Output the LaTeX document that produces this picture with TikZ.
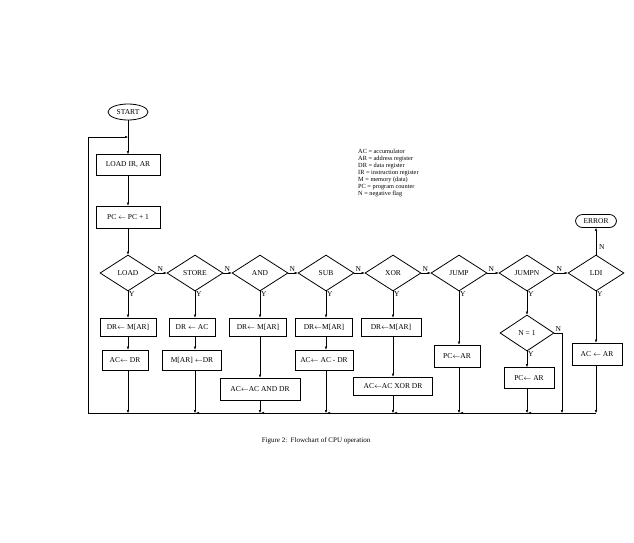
\documentclass[tikz,border=0pt]{standalone}
\usepackage{fontspec}
\setmainfont{Liberation Serif}
\usetikzlibrary{shapes.geometric,arrows.meta}
\begin{document}
\begin{tikzpicture}[x=1pt,y=-1pt,
  every node/.style={font=\fontsize{7.5}{8}\selectfont},
  box/.style={draw,thick,minimum height=18pt,inner sep=1pt},
  dia/.style={draw,thick,diamond,aspect=1.55,minimum width=56pt,minimum height=36pt,inner sep=0pt},
  lab/.style={font=\fontsize{7.5}{8}\selectfont,inner sep=1pt},
  arr/.style={-{Latex[length=3pt,width=2.5pt]}},
  ln/.style={line width=0.4pt}]
\useasboundingbox (0,0) rectangle (634,542);
\node[draw,thick,ellipse,minimum width=40pt,minimum height=16pt,inner sep=0pt] (start) at (128,112) {START};
\node[box,minimum width=64pt,minimum height=21pt] (ld) at (128,165) {LOAD IR, AR};
\node[box,minimum width=64pt,minimum height=22pt] (pc) at (128,217) {PC $\leftarrow$ PC + 1};
\coordinate (top) at (128,137);
\coordinate (lft) at (88,137);
\coordinate (lfb) at (88,413);
\foreach \n/\x/\t in {d1/128/LOAD,d2/195/STORE,d3/260/AND,d4/326/SUB,d5/393/XOR,d6/459/JUMP,d7/527/JUMPN,d8/596/LDI}
  \node[dia] (\n) at (\x,273) {\t};
\node[box,minimum width=56pt] (a1) at (128,327) {DR$\leftarrow$ M[AR]};
\node[box,minimum width=46pt,minimum height=20pt] (b1) at (125,360) {AC$\leftarrow$ DR};
\node[box,minimum width=46pt] (a2) at (192,327) {DR $\leftarrow$ AC};
\node[box,minimum width=59pt,minimum height=20pt] (b2) at (192,360) {M[AR] $\leftarrow$DR};
\node[box,minimum width=57pt] (a3) at (258,327) {DR$\leftarrow$ M[AR]};
\node[box,minimum width=80pt,minimum height=22pt] (b3) at (260,389) {AC$\leftarrow$AC AND DR};
\node[box,minimum width=57pt] (a4) at (324,327) {DR$\leftarrow$M[AR]};
\node[box,minimum width=58pt,minimum height=20pt] (b4) at (324,360) {AC$\leftarrow$ AC - DR};
\node[box,minimum width=60pt] (a5) at (391,327) {DR$\leftarrow$M[AR]};
\node[box,minimum width=79pt] (b5) at (393,386) {AC$\leftarrow$AC XOR DR};
\node[box,minimum width=46pt,minimum height=22pt] (a6) at (457,356) {PC$\leftarrow$AR};
\node[dia,minimum width=54pt] (n1) at (527,333) {N = 1};
\node[box,minimum width=50pt,minimum height=21pt] (a7) at (529,378) {PC$\leftarrow$ AR};
\node[box,minimum width=50pt,minimum height=22pt] (a8) at (597,354) {AC $\leftarrow$ AR};
\node[draw,thick,rounded corners=7pt,minimum width=41pt,minimum height=13pt,inner sep=1pt] (err) at (596,221) {ERROR};
% main flow
\draw[ln,arr] (start) -- (ld);
\draw[ln,arr] (ld) -- (pc);
\draw[ln,arr] (pc) -- (d1);
\draw[ln,arr] (lfb) -- (lft) -- (top);
\foreach \a/\b in {d1/d2,d2/d3,d3/d4,d4/d5,d5/d6,d6/d7,d7/d8}{
  \draw[ln,arr] (\a.east) -- (\b.west);
  \node[lab,anchor=south west] at (\a.east) {N};
}
\foreach \n in {d1,d2,d3,d4,d5,d6,d7,d8}
  \node[lab,anchor=north west] at ([yshift=1pt]\n.south) {Y};
\foreach \d/\a/\b in {d1/a1/b1,d2/a2/b2,d3/a3/b3,d4/a4/b4,d5/a5/b5}{
  \draw[ln,arr] (\d.south) -- (\d|-\a.north);
  \draw[ln,arr] (\d|-\a.south) -- (\d|-\b.north);
}
\draw[ln,arr] (d6) -- (d6|-a6.north);
\draw[ln,arr] (d7) -- (n1);
\draw[ln,arr] (n1) -- (n1|-a7.north);
\node[lab,anchor=north west] at ([yshift=1pt]n1.south) {Y};
\draw[ln,arr] (d8) -- (d8|-a8.north);
\draw[ln,arr] (d8) -- (err);
\node[lab,anchor=west] at (598,247) {N};
% bottom collection
\coordinate (c1) at (128,413); \coordinate (c2) at (195,413); \coordinate (c3) at (260,413);
\coordinate (c4) at (326,413); \coordinate (c5) at (393,413); \coordinate (c6) at (459,413);
\coordinate (c7) at (527,413); \coordinate (c9) at (562,413); \coordinate (c8) at (596,413);
\draw[ln,arr] (c1|-b1.south) -- (c1);
\draw[ln,arr] (c2|-b2.south) -- (c2);
\draw[ln,arr] (c3|-b3.south) -- (c3);
\draw[ln,arr] (c4|-b4.south) -- (c4);
\draw[ln,arr] (c5|-b5.south) -- (c5);
\draw[ln,arr] (c6|-a6.south) -- (c6);
\draw[ln,arr] (c7|-a7.south) -- (c7);
\draw[ln,arr] (c8|-a8.south) -- (c8);
\draw[ln,arr] (n1.east) -- (562,333) -- (c9);
\node[lab,anchor=south west] at (n1.east) {N};
\draw[ln] (c8) -- (lfb);
\foreach \p in {c2,c3,c4,c5,c6,c7}
  \draw[ln,arr] ([xshift=6pt]\p) -- ([xshift=1pt]\p);
% legend
\node[anchor=north west,align=left,inner sep=0pt,font=\fontsize{6.3}{7}\selectfont] (leg) at (358,149) {AC = accumulator\\AR = address register\\DR = data register\\IR = instruction register\\M = memory (data)\\PC = program counter\\N = negative flag};
\node[font=\fontsize{7}{8}\selectfont] (cap) at (316,441) {Figure 2:\ \ Flowchart of CPU operation};
\end{tikzpicture}
\end{document}
